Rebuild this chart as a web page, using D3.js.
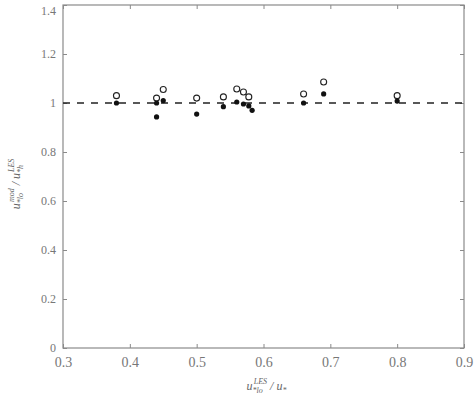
<!DOCTYPE html>
<html>
<head>
<meta charset="utf-8">
<script src="https://cdn.jsdelivr.net/npm/d3@7"></script>
<style>
  body { margin: 0; background: #fff; }
  text { font-family: "Liberation Serif", "DejaVu Serif", serif; }
</style>
</head>
<body>
<svg id="chart"></svg>
<script>
// data
var openX   = [0.38, 0.44, 0.45, 0.50, 0.54, 0.56, 0.57, 0.578, 0.66, 0.69, 0.80];
var openY   = [1.03, 1.02, 1.055, 1.02, 1.025, 1.057, 1.045, 1.025, 1.037, 1.086, 1.03];
var filledX = [0.38, 0.44, 0.44, 0.45, 0.50, 0.54, 0.56, 0.57, 0.578, 0.583, 0.66, 0.69, 0.80];
var filledY = [1.0, 0.943, 1.0, 1.01, 0.955, 0.985, 1.004, 0.996, 0.988, 0.97, 1.0, 1.037, 1.008];
var xTicks = [0.3, 0.4, 0.5, 0.6, 0.7, 0.8, 0.9];
var yTicks = [0, 0.2, 0.4, 0.6, 0.8, 1, 1.2, 1.4];

var width = 474, height = 403;
var margin = {left: 63, right: 10, top: 5, bottom: 55};

var svg = d3.select("#chart")
  .attr("width", width)
  .attr("height", height);

var x = d3.scaleLinear().domain([0.3, 0.9]).range([margin.left, width - margin.right]);
var y = d3.scaleLinear().domain([0, 1.4]).range([height - margin.bottom, margin.top]);

var axisColor = "#8a8a8a";

// frame
svg.append("rect")
  .attr("x", x(0.3)).attr("y", y(1.4))
  .attr("width", x(0.9) - x(0.3)).attr("height", y(0) - y(1.4))
  .attr("fill", "none").attr("stroke", axisColor).attr("stroke-width", 1.2);

// axes
var xAxis = svg.append("g")
  .attr("transform", "translate(0," + y(0) + ")")
  .call(d3.axisBottom(x).tickValues(xTicks).tickSize(-4).tickPadding(9).tickFormat(d3.format(".1f")));
var yAxis = svg.append("g")
  .attr("transform", "translate(" + x(0.3) + ",0)")
  .call(d3.axisLeft(y).tickValues(yTicks).tickSize(-4).tickPadding(7).tickFormat(function (d) { return d3.format("")(d); }));

[xAxis, yAxis].forEach(function (g) {
  g.select(".domain").remove();
  g.selectAll("line").attr("stroke", axisColor);
  g.selectAll("text").attr("fill", "#777").style("font-size", "14px");
});
yAxis.selectAll("text").style("font-size", "12px");
// keep the top label inside the window
yAxis.selectAll("text").filter(function (d) { return d === 1.4; }).attr("dy", "0.75em");

// top and right ticks
svg.append("g")
  .attr("transform", "translate(0," + y(1.4) + ")")
  .call(d3.axisTop(x).tickValues(xTicks).tickSize(-4).tickFormat(""))
  .call(function (g) { g.select(".domain").remove(); g.selectAll("line").attr("stroke", axisColor); });
svg.append("g")
  .attr("transform", "translate(" + x(0.9) + ",0)")
  .call(d3.axisRight(y).tickValues(yTicks).tickSize(-4).tickFormat(""))
  .call(function (g) { g.select(".domain").remove(); g.selectAll("line").attr("stroke", axisColor); });

// reference line at 1
svg.append("line")
  .attr("x1", x(0.3)).attr("x2", x(0.9))
  .attr("y1", y(1)).attr("y2", y(1))
  .attr("stroke", "#222").attr("stroke-width", 1.3)
  .attr("stroke-dasharray", "7,7");

// markers
svg.selectAll(".open")
  .data(openX)
  .enter().append("circle")
  .attr("class", "open")
  .attr("cx", function (d) { return x(d); })
  .attr("cy", function (d, i) { return y(openY[i]); })
  .attr("r", 3)
  .attr("fill", "none").attr("stroke", "#222").attr("stroke-width", 1.1);

svg.selectAll(".filled")
  .data(filledX)
  .enter().append("circle")
  .attr("class", "filled")
  .attr("cx", function (d) { return x(d); })
  .attr("cy", function (d, i) { return y(filledY[i]); })
  .attr("r", 2.6)
  .attr("fill", "#111");

// axis labels
var xl = svg.append("text")
  .attr("x", (x(0.3) + x(0.9)) / 2 + 3)
  .attr("y", 390)
  .attr("text-anchor", "middle")
  .attr("fill", "#666")
  .style("font-size", "12px")
  .style("font-style", "italic");
xl.append("tspan").text("u");
xl.append("tspan").attr("dy", 3).style("font-size", "8px").text("*lo");
xl.append("tspan").attr("dy", -9).attr("dx", -9).style("font-size", "8px").text("LES");
xl.append("tspan").attr("dy", 6).text(" / u");
xl.append("tspan").attr("dy", 3).style("font-size", "8px").text("*");

var yl = svg.append("text")
  .attr("transform", "translate(20," + 184 + ") rotate(-90)")
  .attr("text-anchor", "middle")
  .attr("fill", "#666")
  .style("font-size", "12px")
  .style("font-style", "italic");
yl.append("tspan").text("u");
yl.append("tspan").attr("dy", 3).style("font-size", "8px").text("*lo");
yl.append("tspan").attr("dy", -9).attr("dx", -9).style("font-size", "8px").text("mod");
yl.append("tspan").attr("dy", 6).text(" / u");
yl.append("tspan").attr("dy", 3).style("font-size", "8px").text("*h");
yl.append("tspan").attr("dy", -9).attr("dx", -7).style("font-size", "8px").text("LES");
</script>
</body>
</html>
